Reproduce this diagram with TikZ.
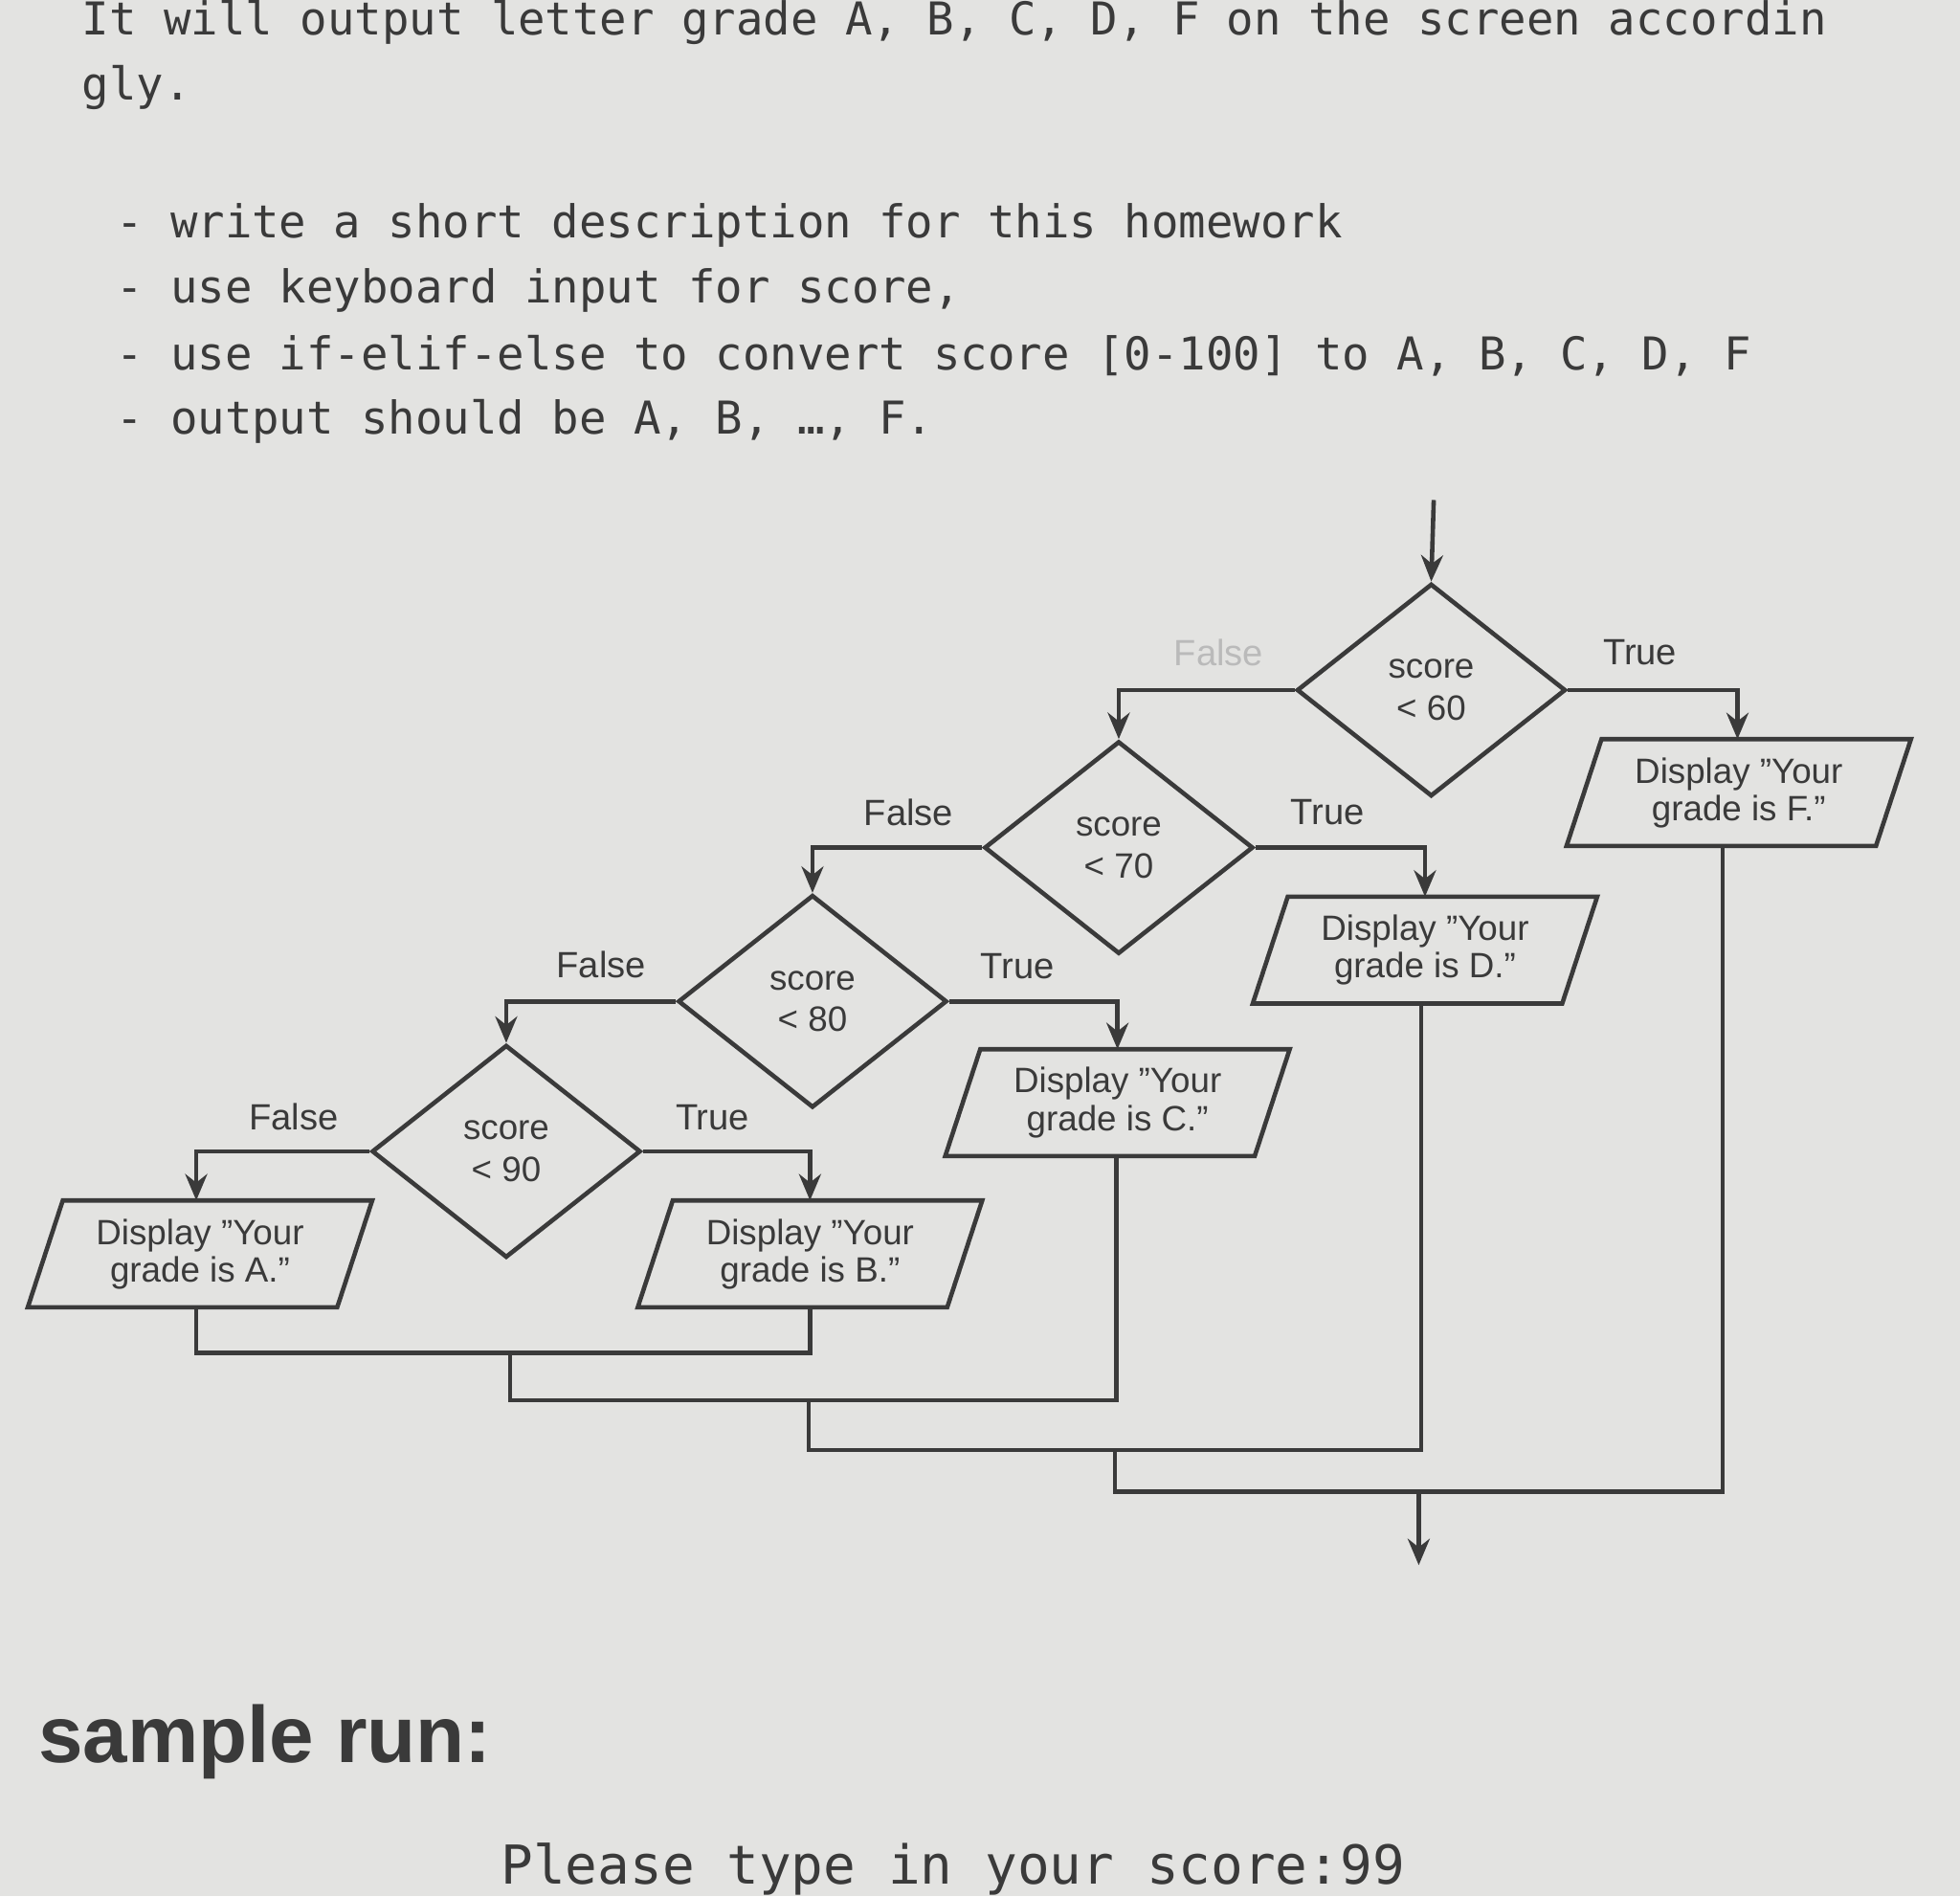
\documentclass[tikz,border=0pt]{standalone}
\usepackage{fontspec}
\setmainfont{Liberation Sans}
\newfontfamily\monof{DejaVu Sans Mono}
\usetikzlibrary{shapes.geometric,calc,arrows.meta}
\definecolor{bg}{HTML}{E3E3E1}
\definecolor{ink}{HTML}{3A3A3A}
\tikzset{
  dia/.style={diamond,draw=ink,line width=1pt,minimum width=2.15cm,minimum height=1.7cm,inner sep=0pt,align=center,font=\fontsize{8}{9.5}\selectfont,text=ink},
  pbox/.style={minimum width=2.74cm,minimum height=0.84cm,inner sep=0pt,align=center,font=\fontsize{8}{8.5}\selectfont,text=ink},
  lab/.style={font=\fontsize{8.3}{10}\selectfont,text=ink},
  con/.style={draw=ink,line width=1pt},
  arr/.style={con,-{Stealth[length=6pt,width=5pt]}},
  mono/.style={anchor=base west,font=\monof\fontsize{10.3}{12}\selectfont,text=ink,inner sep=0pt}
}
\newcommand{\para}[1]{\draw[con] ($(#1.north west)+(28,0)$) -- (#1.north east) -- ($(#1.south east)-(28,0)$) -- (#1.south west) -- cycle;}
\newcommand{\q}{\symbol{34}}
\begin{document}
\begin{tikzpicture}[x=0.01cm,y=-0.01cm]
\fill[bg] (0,0) rectangle (1568,1517);
\useasboundingbox (0,0) rectangle (1568,1517);
\node[mono] (t1) at (65,28) {It will output letter grade A, B, C, D, F on the screen accordin};
\node[mono] (t2) at (65,80) {gly.};
\node[mono] (t3) at (92,190) {- write a short description for this homework};
\node[mono] (t4) at (92,242) {- use keyboard input for score,};
\node[mono] (t5) at (92,296) {- use if-elif-else to convert score [0-100] to A, B, C, D, F};
\node[mono] (t6) at (92,347) {- output should be A, B, …, F.};

\node[dia] (d60) at (1145,552) {score\\< 60};
\node[dia] (d70) at (895,678) {score\\< 70};
\node[dia] (d80) at (650,801) {score\\< 80};
\node[dia] (d90) at (405,921) {score\\< 90};
\node[pbox] (pF) at (1391,634) {Display \q Your\\grade is F.\q};
\node[pbox] (pD) at (1140,760) {Display \q Your\\grade is D.\q};
\node[pbox] (pC) at (894,882) {Display \q Your\\grade is C.\q};
\node[pbox] (pB) at (648,1003) {Display \q Your\\grade is B.\q};
\node[pbox] (pA) at (160,1003) {Display \q Your\\grade is A.\q};
\para{pF}\para{pD}\para{pC}\para{pB}\para{pA}

\coordinate (in) at (1147,400);
\draw[arr] (in) -- (d60.north);
\draw[arr] (d60.east) -| (pF.north -| 1390,0);
\draw[arr] (d60.west) -| (d70.north);
\draw[arr] (d70.east) -| (pD.north);
\draw[arr] (d70.west) -| (d80.north);
\draw[arr] (d80.east) -| (pC.north);
\draw[arr] (d80.west) -| (d90.north);
\draw[arr] (d90.east) -| (pB.north);
\draw[arr] (d90.west) -| (pA.north -| 157,0);

\node[lab] (lT60) at (1312,522) {True};
\node[lab,text=ink!35] (lF60) at (975,522) {False};
\node[lab] (lT70) at (1062,650) {True};
\node[lab] (lF70) at (727,650) {False};
\node[lab] (lT80) at (814,773) {True};
\node[lab] (lF80) at (481,772) {False};
\node[lab] (lT90) at (570,894) {True};
\node[lab] (lF90) at (235,893) {False};

\coordinate (m1) at (408,1082);
\coordinate (m2) at (647,1120);
\coordinate (m3) at (892,1160);
\coordinate (m4) at (1135,1193);
\coordinate (out) at (1135,1252);
\draw[con] (pA.south -| 157,0) |- (m1) -| (pB.south);
\draw[con] (m1) |- (m2) -| (pC.south -| 893,0);
\draw[con] (m2) |- (m3) -| (pD.south -| 1137,0);
\draw[con] (m3) |- (m4) -| (pF.south -| 1378,0);
\draw[arr] (m4) -- (out);

\node[anchor=base west,font=\bfseries\fontsize{18.2}{20}\selectfont,text=ink,inner sep=0pt] (sr) at (30,1410) {sample run:};
\node[anchor=base west,font=\monof\fontsize{12.2}{14}\selectfont,text=ink,inner sep=0pt] (pl) at (400,1507) {Please type in your score:99};
\end{tikzpicture}
\end{document}
